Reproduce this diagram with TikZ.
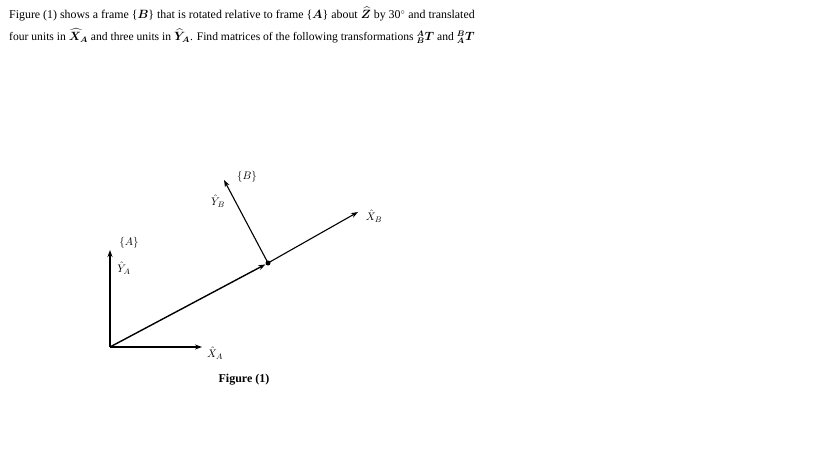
\documentclass[tikz,border=0pt]{standalone}
\usepackage{fontspec}
\usepackage{amsmath,bm}
\setmainfont{Liberation Serif}
\usetikzlibrary{arrows.meta}

\begin{document}
\begin{tikzpicture}[x=1pt, y=-1pt,
    axis/.style={line width=1.4pt, -{Stealth[length=7pt, width=5pt]}},
    frameB/.style={line width=1.1pt, -{Stealth[length=7pt, width=5pt]}},
    lbl/.style={font=\fontsize{11}{12}\selectfont, inner sep=0pt}]
  \useasboundingbox (0, 0) rectangle (819, 460);

  % question text
  \node[anchor=west, inner sep=0pt, font=\fontsize{11.9}{13}\selectfont] (line1) at (9, 14)
    {Figure (1) shows a frame \{$\bm{B}$\} that is rotated relative to frame \{$\bm{A}$\} about $\bm{\widehat{Z}}$ by 30$^{\circ}$ and translated};
  \node[anchor=west, inner sep=0pt, font=\fontsize{11.6}{13}\selectfont] (line2) at (9, 36)
    {four units in $\bm{\widehat{X}_A}$ and three units in $\bm{\widehat{Y}_A}$. Find matrices of the following transformations ${}^{\bm{A}}_{\bm{B}}\bm{T}$ and ${}^{\bm{B}}_{\bm{A}}\bm{T}$};

  % frame {A}
  \coordinate (OA) at (110, 347);
  \coordinate (YA) at (110, 250);
  \coordinate (XA) at (202, 347);
  \draw[axis] (OA) -- (YA);
  \draw[axis] (OA) -- (XA);

  % frame {B}
  \coordinate (OB) at (268, 263);
  \coordinate (XB) at (358, 212);
  \coordinate (YB) at (224, 180);
  \draw[axis, shorten >=3pt] (OA) -- (OB);
  \draw[frameB] (OB) -- (XB);
  \draw[frameB] (OB) -- (YB);
  \fill (OB) circle (2.5pt);

  % labels
  \node[lbl] (lA) at (129, 243) {$\{A\}$};
  \node[lbl] (lYA) at (124, 268) {$\hat{Y}_{A}$};
  \node[lbl] (lXA) at (215, 353) {$\hat{X}_{A}$};
  \node[lbl] (lB) at (247, 177) {$\{B\}$};
  \node[lbl] (lYB) at (218, 201) {$\hat{Y}_{B}$};
  \node[lbl] (lXB) at (374, 216) {$\hat{X}_{B}$};

  \node[font=\fontsize{12}{14}\selectfont\bfseries, inner sep=0pt] (cap) at (244, 380) {Figure (1)};
\end{tikzpicture}
\end{document}
